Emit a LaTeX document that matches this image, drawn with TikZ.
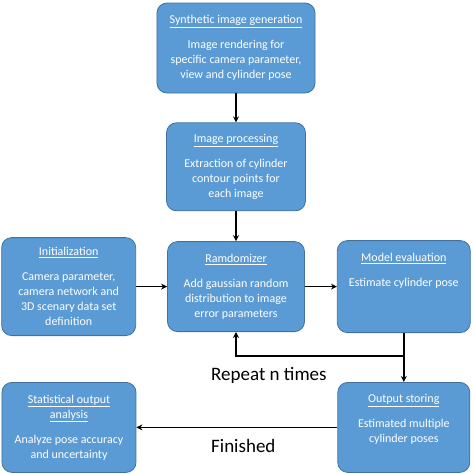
\documentclass[tikz,border=0pt]{standalone}
\usepackage{fontspec}
\setmainfont{Carlito}
\usepackage{tikz}
\usetikzlibrary{arrows.meta, positioning, calc}
\definecolor{boxfill}{HTML}{5B9BD5}
\definecolor{boxline}{HTML}{41719C}

\begin{document}
\begin{tikzpicture}[
    every node/.style={font=\fontsize{12}{15}\selectfont},
    stage/.style={rectangle, draw=boxline, rounded corners=10pt, fill=boxfill, text=white, align=center, minimum height=90pt, line width=0.8pt, inner sep=2pt},
    arr/.style={-{Stealth[length=6pt, width=6pt]}, line width=1.6pt},
    note/.style={font=\fontsize{19}{22}\selectfont, inner sep=0pt}
]
    \useasboundingbox (-236pt,48pt) rectangle (238pt,-426pt);

    \node (synth) [stage, minimum width=158pt] at (0,0) {\underline{Synthetic image generation}\\[10pt]Image rendering for\\specific camera parameter,\\view and cylinder pose};
    \node (improc) [stage, minimum width=139pt, minimum height=88pt, below=29pt of synth] {\underline{Image processing}\\[10pt]Extraction of cylinder\\contour points for\\each image};
    \node (rand) [stage, minimum width=137pt, below=30pt of improc] {\underline{Ramdomizer}\\[10pt]Add gaussian random\\distribution to image\\error parameters};
    \node (init) [stage, minimum width=134pt, minimum height=98pt, left=31pt of rand] {\underline{Initialization}\\[10pt]Camera parameter,\\camera network  and\\3D scenary data set\\definition};
    \node (modev) [stage, minimum width=133pt, minimum height=92pt, text depth=33pt, right=32pt of rand] {\underline{Model evaluation}\\[10pt]Estimate cylinder pose};
    \node (store) [stage, minimum width=132pt, text depth=18pt, below=49pt of modev] {\underline{Output storing}\\[10pt]Estimated multiple\\cylinder poses};
    \node (stat) [stage, minimum width=134pt, left=201pt of store] {\underline{Statistical output}\\\underline{analysis}\\[10pt]Analyze pose accuracy\\and uncertainty};

    \coordinate (loop) at ($(modev.south)+(0,-23pt)$);

    \node (repeat) [note, anchor=west] at ($(rand.south |- loop)+(-25pt,-19pt)$) {Repeat n times};
    \node (finished) [note, anchor=west] at ($(rand.south |- stat.east)+(-25pt,-19pt)$) {Finished};

    \draw[arr] (synth) -- (improc);
    \draw[arr] (improc) -- (rand);
    \draw[arr] (init) -- (rand);
    \draw[arr] (rand) -- (modev);
    \draw[arr] (modev.south) -- (store.north);
    \draw[arr] (loop) -| (rand.south);
    \draw[arr] (store.west) -- (stat.east);
\end{tikzpicture}
\end{document}
